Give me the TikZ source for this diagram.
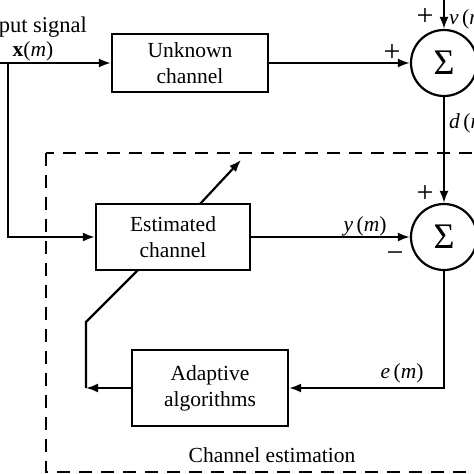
\documentclass[tikz,border=0pt]{standalone}
\usepackage{fontspec}
\setmainfont{Liberation Serif}
\usetikzlibrary{arrows.meta}
\begin{document}
\begin{tikzpicture}[x=1pt,y=-1pt,
  line width=2.2pt,
  font=\fontsize{21.5}{26}\selectfont,
  arr/.style={-{Latex[length=12pt,width=9pt]}},
  blk/.style={draw,minimum width=156pt,align=center,inner sep=0pt},
  sumnode/.style={draw,circle,minimum size=66pt,inner sep=0pt,font=\fontsize{36}{36}\selectfont},
  lbl/.style={inner sep=0pt},
  sgn/.style={inner sep=0pt,font=\fontsize{30}{30}\selectfont}]
\useasboundingbox (0,0) rectangle (474,474);
\clip (0,0) rectangle (474,474);
% dashed region
\draw[dash pattern=on 13pt off 9pt] (46,153) rectangle (490,472);
% blocks
\node[blk,minimum height=58pt] (unk) at (190,63) {Unknown\\channel};
\node[blk,minimum width=154pt,minimum height=66pt] (est) at (173,237) {Estimated\\channel};
\node[blk,minimum height=76pt] (ada) at (210,388) {Adaptive\\algorithms};
\node[sumnode] (s1) at (444,63) {Σ};
\node[sumnode] (s2) at (444,237) {Σ};
% coordinates
\coordinate (in) at (-5,63);
\coordinate (split) at (8,63);
\coordinate (splitdown) at (8,237);
\coordinate (vtop) at (444,-5);
\coordinate (ecorner) at (444,388);
\coordinate (aleft) at (86,388);
\coordinate (abend) at (86,322);
\coordinate (estbot) at (138,270);
\coordinate (esttop) at (200,204);
\coordinate (tip) at (241,160);
% connectors
\draw[arr] (in) -- (unk.west);
\draw[arr] (split) -- (splitdown) -- (est.west);
\draw[arr] (unk.east) -- (s1.west);
\draw[arr] (vtop) -- (s1.north);
\draw[arr] (s1.south) -- (s2.north);
\draw[arr] (est.east) -- (s2.west);
\draw[arr] (s2.south) -- (ecorner) -- (ada.east);
\draw[arr] (ada.west) -- (aleft);
\draw (aleft) -- (abend) -- (estbot);
\draw[arr] (esttop) -- (tip);
% labels
\node[lbl,anchor=east,font=\fontsize{22.5}{26}\selectfont] (lin) at (88,27) {Input signal};
\node[lbl] (lx) at (33,51) {\textbf{x}(\textit{m})};
\node[sgn] (p1) at (425,17) {+};
\node[lbl,anchor=west] (lv) at (448,19) {\textit{v}\,(\textit{m})};
\node[sgn] (p2) at (392,53) {+};
\node[lbl,anchor=west] (ld) at (448,123) {\textit{d}\,(\textit{m})};
\node[sgn] (p3) at (425,194) {+};
\node[sgn] (m1) at (395,257) {−};
\node[lbl] (ly) at (365,226) {\textit{y}\,(\textit{m})};
\node[lbl] (le) at (402,373) {\textit{e}\,(\textit{m})};
\node[lbl] (lce) at (272,455) {Channel estimation};
\end{tikzpicture}
\end{document}
